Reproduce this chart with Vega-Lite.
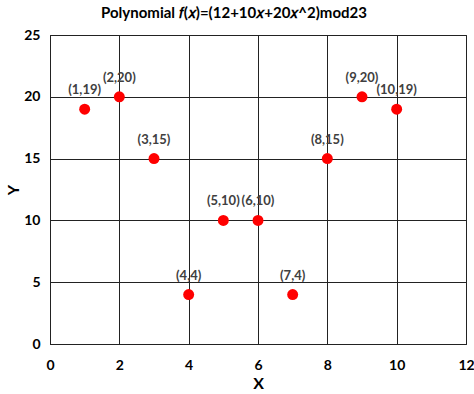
{
  "$schema": "https://vega.github.io/schema/vega-lite/v6.json",
  "width": 416,
  "height": 309,
  "autosize": "none",
  "padding": {"left": 50, "top": 35, "right": 8, "bottom": 50},
  "background": "white",
  "title": {
    "text": "Polynomial 𝑓(𝑥)=(12+10𝑥+20𝑥^2)mod23",
    "font": "Lato",
    "fontSize": 15,
    "fontWeight": "bold",
    "color": "#000000",
    "anchor": "middle",
    "dx": -24,
    "offset": 7
  },
  "config": {
    "view": {"stroke": "#222222", "strokeWidth": 1},
    "font": "Lato"
  },
  "data": {
    "values": [
      {"x": 1, "y": 19, "label": "(1,19)"},
      {"x": 2, "y": 20, "label": "(2,20)"},
      {"x": 3, "y": 15, "label": "(3,15)"},
      {"x": 4, "y": 4, "label": "(4,4)"},
      {"x": 5, "y": 10, "label": "(5,10)"},
      {"x": 6, "y": 10, "label": "(6,10)"},
      {"x": 7, "y": 4, "label": "(7,4)"},
      {"x": 8, "y": 15, "label": "(8,15)"},
      {"x": 9, "y": 20, "label": "(9,20)"},
      {"x": 10, "y": 19, "label": "(10,19)"}
    ]
  },
  "encoding": {
    "x": {
      "field": "x",
      "type": "quantitative",
      "scale": {"domain": [0, 12], "nice": false, "zero": true},
      "axis": {
        "title": "X",
        "values": [0, 2, 4, 6, 8, 10, 12],
        "grid": true,
        "gridColor": "#222222",
        "gridOpacity": 1,
        "gridWidth": 1,
        "ticks": false,
        "domainColor": "#222222",
        "labelFont": "Lato",
        "labelFontSize": 14,
        "labelFontWeight": "bold",
        "labelColor": "#000000",
        "labelPadding": 14,
        "labelFlush": false,
        "titleFont": "Lato",
        "titleFontSize": 16,
        "titleFontWeight": "bold",
        "titleColor": "#000000",
        "titlePadding": 3
      }
    },
    "y": {
      "field": "y",
      "type": "quantitative",
      "scale": {"domain": [0, 25], "nice": false},
      "axis": {
        "title": "Y",
        "values": [0, 5, 10, 15, 20, 25],
        "grid": true,
        "gridColor": "#222222",
        "gridOpacity": 1,
        "gridWidth": 1,
        "ticks": false,
        "domainColor": "#222222",
        "labelFont": "Lato",
        "labelFontSize": 14,
        "labelFontWeight": "bold",
        "labelColor": "#000000",
        "labelPadding": 10,
        "labelFlush": false,
        "titleFont": "Lato",
        "titleFontSize": 16,
        "titleFontWeight": "bold",
        "titleColor": "#000000",
        "titlePadding": 2
      }
    }
  },
  "layer": [
    {
      "mark": {"type": "circle", "size": 120, "color": "#ff0000", "opacity": 1}
    },
    {
      "mark": {
        "type": "text",
        "dy": -19,
        "font": "Lato",
        "fontSize": 13,
        "fontWeight": "bold",
        "color": "#404040"
      },
      "encoding": {"text": {"field": "label"}}
    }
  ]
}
